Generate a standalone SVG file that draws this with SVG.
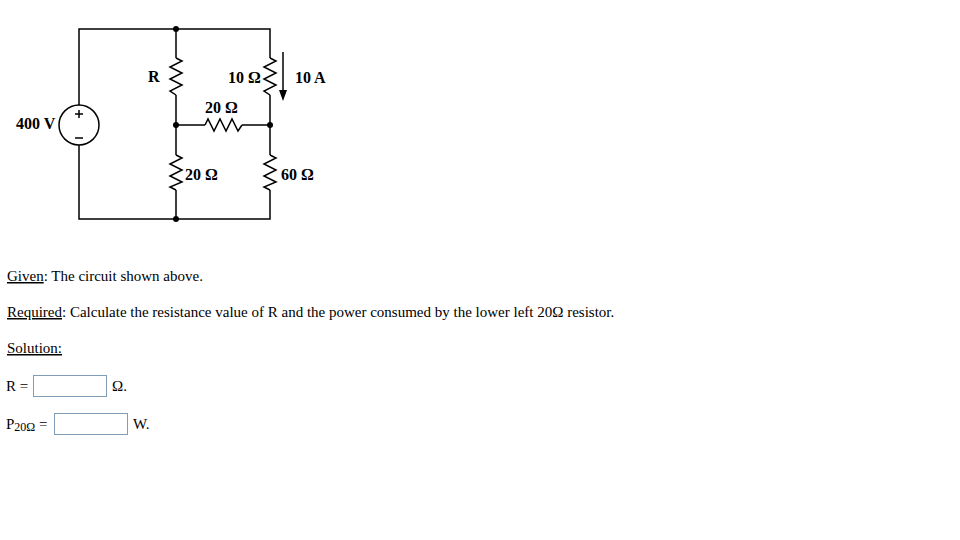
<svg xmlns="http://www.w3.org/2000/svg" width="960" height="540" viewBox="0 0 960 540">
<style>
.w{stroke:#000;stroke-width:1.5;fill:none}
.lb{font-family:"Liberation Serif",serif;font-weight:bold;font-size:16px}
.t{font-family:"Liberation Serif",serif;font-size:15px}
.box{fill:#fff;stroke:#7f9db9;stroke-width:1}
</style>
<rect width="960" height="540" fill="#fff"/>
<g id="connectors">
<path class="w" d="M79,105 V29 H270 V58 M270,95 V125 M79,145 V219 H270 V190 M270,155 V125 M176,29 V58 M176,95 V125 V155 M176,190 V219 M176,125 H205 M242,125 H270"/>
<path class="w" d="M283,52 V90"/>
<path d="M279,90 H287 L283,101Z" fill="#000"/>
</g>
<g id="src"><circle class="w" cx="79" cy="125" r="20"/><path d="M79,110 V118 M75,114 H83 M75,138 H83" stroke="#000" stroke-width="1.5"/><text class="lb" x="16" y="129">400 V</text></g>
<g id="R"><path class="w" d="M176,58 L182,61 L170,67 L182,73 L170,79 L182,85 L170,91 L176,95"/><text class="lb" x="148" y="82">R</text></g>
<g id="R10"><path class="w" d="M270,58 L276,61 L264,67 L276,73 L264,79 L276,85 L264,91 L270,95"/><text class="lb" x="228" y="83">10 Ω</text><text class="lb" x="295" y="83">10 A</text></g>
<g id="R20h"><path class="w" d="M205,125 L208,119 L214,131 L220,119 L226,131 L232,119 L238,131 L242,125"/><text class="lb" x="205" y="113">20 Ω</text></g>
<g id="R20"><path class="w" d="M176,155 L182,158 L170,164 L182,170 L170,176 L182,182 L170,187 L176,190"/><text class="lb" x="185" y="180">20 Ω</text></g>
<g id="R60"><path class="w" d="M270,155 L276,158 L264,164 L276,170 L264,176 L276,182 L264,187 L270,190"/><text class="lb" x="281" y="180">60 Ω</text></g>
<g id="dots" fill="#000"><circle cx="176" cy="29" r="3"/><circle cx="176" cy="125" r="3"/><circle cx="270" cy="125" r="3"/><circle cx="176" cy="219" r="3"/></g>
<g id="text" class="t">
<text x="7" y="281"><tspan text-decoration="underline">Given</tspan>: The circuit shown above.</text>
<text x="7" y="317"><tspan text-decoration="underline">Required</tspan>: Calculate the resistance value of R and the power consumed by the lower left 20Ω resistor.</text>
<text x="7" y="353" text-decoration="underline">Solution:</text>
<text x="6" y="391">R =</text>
<rect class="box" x="33.5" y="375.5" width="73" height="21"/>
<text x="112" y="391">Ω.</text>
<text x="6" y="429">P<tspan font-size="12" dy="2">20Ω</tspan><tspan dy="-2"> =</tspan></text>
<rect class="box" x="54.5" y="413.5" width="73" height="21"/>
<text x="133" y="429">W.</text>
</g>
</svg>
